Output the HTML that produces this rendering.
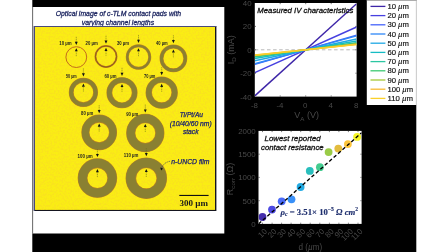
<!DOCTYPE html>
<html><head><meta charset="utf-8"><title>c-TLM contact resistance</title>
<style>
html,body{margin:0;padding:0;background:#fff;}
body{width:448px;height:252px;overflow:hidden;position:relative;font-family:"Liberation Sans",sans-serif;}
svg{position:absolute;left:0;top:0;display:block;}
text{font-family:"Liberation Sans",sans-serif;}
.ser{font-family:"Liberation Serif",serif;}
</style></head><body>
<svg width="448" height="252" viewBox="0 0 448 252">

<rect x="0" y="0" width="448" height="252" fill="#fff"/>
<rect x="32.3" y="0" width="384" height="252" fill="#000"/>
<rect x="32.3" y="7" width="192" height="226.5" fill="#fff"/>
<rect x="32.3" y="7" width="0.8" height="226.5" fill="#555"/>
<g font-style="italic" fill="#1c2560" stroke="#1c2560" stroke-width="0.28" font-size="7.2" text-anchor="middle">
<text x="118.4" y="16.0" textLength="125.4" lengthAdjust="spacingAndGlyphs">Optical image of c-TLM contact pads with</text>
<text x="117.9" y="24.7" textLength="72.4" lengthAdjust="spacingAndGlyphs">varying channel lengths</text>
</g>
<rect x="33.8" y="26" width="182.6" height="185" fill="#15151f"/>
<path d="M33.8 210.8 V26 H216.2 V27 H35 V210.8 Z" fill="#4a4a7a"/>
<rect x="35" y="27" width="180" height="182.9" fill="#faed14"/>
<filter id="nz" x="0" y="0" width="100%" height="100%"><feTurbulence type="fractalNoise" baseFrequency="0.55" numOctaves="2" seed="7" result="t"/><feColorMatrix type="matrix" values="0 0 0 0 0.95  0 0 0 0 0.70  0 0 0 0 0.02  5 0 0 0 -2.15"/></filter>
<rect x="35" y="27" width="180" height="182.9" fill="#000" filter="url(#nz)" opacity="0.5"/>
<circle cx="76.3" cy="57.1" r="10.399999999999999" fill="none" stroke="#c46c1c" stroke-width="1.0"/>
<circle cx="106.0" cy="56.5" r="10.55" fill="none" stroke="#c47a1c" stroke-width="1.80"/>
<circle cx="106.0" cy="56.5" r="10.55" fill="none" stroke="#8a5e1e" stroke-width="1.00"/>
<circle cx="138.5" cy="57.0" r="11.25" fill="none" stroke="#c08420" stroke-width="3.00"/>
<circle cx="138.5" cy="57.0" r="11.3" fill="none" stroke="#8a8032" stroke-width="2.00"/>
<circle cx="173.4" cy="58.4" r="11.899999999999999" fill="none" stroke="#c08420" stroke-width="3.90"/>
<circle cx="173.4" cy="58.4" r="11.95" fill="none" stroke="#8a8032" stroke-width="2.90"/>
<circle cx="83.4" cy="92.4" r="12.2" fill="none" stroke="#c08420" stroke-width="4.90"/>
<circle cx="83.4" cy="92.4" r="12.25" fill="none" stroke="#8a8032" stroke-width="3.90"/>
<circle cx="122.0" cy="92.7" r="12.65" fill="none" stroke="#c08420" stroke-width="5.80"/>
<circle cx="122.0" cy="92.7" r="12.700000000000001" fill="none" stroke="#8a8032" stroke-width="4.80"/>
<circle cx="161.7" cy="92.6" r="12.95" fill="none" stroke="#c08420" stroke-width="6.40"/>
<circle cx="161.7" cy="92.6" r="13.0" fill="none" stroke="#8a8032" stroke-width="5.40"/>
<circle cx="99.2" cy="132.4" r="13.8" fill="none" stroke="#c08420" stroke-width="8.10"/>
<circle cx="99.2" cy="132.4" r="13.850000000000001" fill="none" stroke="#8a8032" stroke-width="7.10"/>
<circle cx="145.3" cy="133.0" r="14.549999999999999" fill="none" stroke="#c08420" stroke-width="9.20"/>
<circle cx="145.3" cy="133.0" r="14.6" fill="none" stroke="#8a8032" stroke-width="8.20"/>
<circle cx="97.4" cy="178.1" r="14.85" fill="none" stroke="#c08420" stroke-width="9.80"/>
<circle cx="97.4" cy="178.1" r="14.9" fill="none" stroke="#8a8032" stroke-width="8.80"/>
<circle cx="146.3" cy="178.2" r="15.45" fill="none" stroke="#c08420" stroke-width="10.60"/>
<circle cx="146.3" cy="178.2" r="15.5" fill="none" stroke="#8a8032" stroke-width="9.60"/>
<g font-size="4.6" font-weight="bold" fill="#222" text-anchor="middle">
<line x1="76.3" y1="36.8" x2="76.3" y2="42.0" stroke="#6a6a20" stroke-width="0.55" stroke-dasharray="1.3 0.6"/>
<path d="M74.85 41.7 L77.75 41.7 L76.3 44.9 Z" fill="#111"/>
<path d="M74.85 51.3 L77.75 51.3 L76.3 48.2 Z" fill="#111"/>
<line x1="76.3" y1="51.2" x2="76.3" y2="56.2" stroke="#6a6a20" stroke-width="0.55" stroke-dasharray="1.3 0.6"/>
<text x="65.5" y="45.2" textLength="12.4" lengthAdjust="spacingAndGlyphs">10 µm</text>
<line x1="106.0" y1="35.7" x2="106.0" y2="40.9" stroke="#6a6a20" stroke-width="0.55" stroke-dasharray="1.3 0.6"/>
<path d="M104.55 40.6 L107.45 40.6 L106.0 43.8 Z" fill="#111"/>
<path d="M104.55 50.9 L107.45 50.9 L106.0 47.8 Z" fill="#111"/>
<line x1="106.0" y1="50.8" x2="106.0" y2="55.8" stroke="#6a6a20" stroke-width="0.55" stroke-dasharray="1.3 0.6"/>
<text x="91.7" y="45.2" textLength="12.2" lengthAdjust="spacingAndGlyphs">20 µm</text>
<line x1="138.5" y1="34.9" x2="138.5" y2="40.1" stroke="#6a6a20" stroke-width="0.55" stroke-dasharray="1.3 0.6"/>
<path d="M137.05 39.8 L139.95 39.8 L138.5 43.0 Z" fill="#111"/>
<path d="M137.05 51.3 L139.95 51.3 L138.5 48.2 Z" fill="#111"/>
<line x1="138.5" y1="51.2" x2="138.5" y2="56.2" stroke="#6a6a20" stroke-width="0.55" stroke-dasharray="1.3 0.6"/>
<text x="123.0" y="45.2" textLength="12.1" lengthAdjust="spacingAndGlyphs">30 µm</text>
<line x1="173.4" y1="35.2" x2="173.4" y2="40.4" stroke="#6a6a20" stroke-width="0.55" stroke-dasharray="1.3 0.6"/>
<path d="M171.95 40.1 L174.85 40.1 L173.4 43.3 Z" fill="#111"/>
<path d="M171.95 52.5 L174.85 52.5 L173.4 49.4 Z" fill="#111"/>
<line x1="173.4" y1="52.4" x2="173.4" y2="57.4" stroke="#6a6a20" stroke-width="0.55" stroke-dasharray="1.3 0.6"/>
<text x="161.8" y="44.9" textLength="11.6" lengthAdjust="spacingAndGlyphs">40 µm</text>
<line x1="83.4" y1="68.4" x2="83.4" y2="73.6" stroke="#6a6a20" stroke-width="0.55" stroke-dasharray="1.3 0.6"/>
<path d="M81.95 73.3 L84.85 73.3 L83.4 76.5 Z" fill="#111"/>
<path d="M81.95 86.7 L84.85 86.7 L83.4 83.6 Z" fill="#111"/>
<line x1="83.4" y1="86.6" x2="83.4" y2="91.6" stroke="#6a6a20" stroke-width="0.55" stroke-dasharray="1.3 0.6"/>
<text x="71.3" y="77.6" textLength="10.8" lengthAdjust="spacingAndGlyphs">50 µm</text>
<line x1="122.0" y1="67.8" x2="122.0" y2="73.0" stroke="#6a6a20" stroke-width="0.55" stroke-dasharray="1.3 0.6"/>
<path d="M120.55 72.7 L123.45 72.7 L122.0 75.9 Z" fill="#111"/>
<path d="M120.55 87.0 L123.45 87.0 L122.0 83.9 Z" fill="#111"/>
<line x1="122.0" y1="86.9" x2="122.0" y2="91.9" stroke="#6a6a20" stroke-width="0.55" stroke-dasharray="1.3 0.6"/>
<text x="110.5" y="77.6" textLength="12.0" lengthAdjust="spacingAndGlyphs">60 µm</text>
<line x1="161.7" y1="67.1" x2="161.7" y2="72.3" stroke="#6a6a20" stroke-width="0.55" stroke-dasharray="1.3 0.6"/>
<path d="M160.25 72.0 L163.15 72.0 L161.7 75.2 Z" fill="#111"/>
<path d="M160.25 86.9 L163.15 86.9 L161.7 83.8 Z" fill="#111"/>
<line x1="161.7" y1="86.8" x2="161.7" y2="91.8" stroke="#6a6a20" stroke-width="0.55" stroke-dasharray="1.3 0.6"/>
<text x="149.7" y="77.6" textLength="11.4" lengthAdjust="spacingAndGlyphs">70 µm</text>
<line x1="99.2" y1="105.2" x2="99.2" y2="110.4" stroke="#6a6a20" stroke-width="0.55" stroke-dasharray="1.3 0.6"/>
<path d="M97.75 110.1 L100.65 110.1 L99.2 113.3 Z" fill="#111"/>
<path d="M97.75 126.7 L100.65 126.7 L99.2 123.6 Z" fill="#111"/>
<line x1="99.2" y1="126.6" x2="99.2" y2="131.6" stroke="#6a6a20" stroke-width="0.55" stroke-dasharray="1.3 0.6"/>
<text x="87.2" y="114.8" textLength="12.2" lengthAdjust="spacingAndGlyphs">80 µm</text>
<line x1="145.3" y1="104.5" x2="145.3" y2="109.7" stroke="#6a6a20" stroke-width="0.55" stroke-dasharray="1.3 0.6"/>
<path d="M143.85 109.4 L146.75 109.4 L145.3 112.6 Z" fill="#111"/>
<path d="M143.85 127.1 L146.75 127.1 L145.3 124.0 Z" fill="#111"/>
<line x1="145.3" y1="127.0" x2="145.3" y2="132.0" stroke="#6a6a20" stroke-width="0.55" stroke-dasharray="1.3 0.6"/>
<text x="132.3" y="116.0" textLength="12.2" lengthAdjust="spacingAndGlyphs">90 µm</text>
<line x1="97.4" y1="149.0" x2="97.4" y2="154.2" stroke="#6a6a20" stroke-width="0.55" stroke-dasharray="1.3 0.6"/>
<path d="M95.95 153.9 L98.85 153.9 L97.4 157.1 Z" fill="#111"/>
<path d="M95.95 172.2 L98.85 172.2 L97.4 169.1 Z" fill="#111"/>
<line x1="97.4" y1="172.1" x2="97.4" y2="177.1" stroke="#6a6a20" stroke-width="0.55" stroke-dasharray="1.3 0.6"/>
<text x="85.1" y="158.2" textLength="15.1" lengthAdjust="spacingAndGlyphs">100 µm</text>
<line x1="146.3" y1="148.1" x2="146.3" y2="153.3" stroke="#6a6a20" stroke-width="0.55" stroke-dasharray="1.3 0.6"/>
<path d="M144.85 153.0 L147.75 153.0 L146.3 156.2 Z" fill="#111"/>
<path d="M144.85 172.1 L147.75 172.1 L146.3 169.0 Z" fill="#111"/>
<line x1="146.3" y1="172.0" x2="146.3" y2="177.0" stroke="#6a6a20" stroke-width="0.55" stroke-dasharray="1.3 0.6"/>
<text x="131.1" y="157.0" textLength="14.6" lengthAdjust="spacingAndGlyphs">110 µm</text>
</g>
<g font-style="italic" fill="#1a2070" stroke="#1a2070" stroke-width="0.25" font-size="6.7" text-anchor="middle">
<text x="191.3" y="117.4" textLength="23.2" lengthAdjust="spacingAndGlyphs">Ti/Pt/Au</text>
<text x="190.7" y="126.3" textLength="42" lengthAdjust="spacingAndGlyphs">(10/40/60 nm)</text>
<text x="190.7" y="134.2">stack</text>
<text x="190.4" y="163.6" textLength="38.3" lengthAdjust="spacingAndGlyphs">n-UNCD film</text>
</g>
<path d="M170 161.3 Q163.5 162.5 161.6 168.2" fill="none" stroke="#1c2560" stroke-width="0.6" stroke-dasharray="1.3 0.8"/>
<path d="M160.2 167.6 L163 168.6 L161.2 170.4 Z" fill="#111"/>
<rect x="179.3" y="194.9" width="29.3" height="1.1" fill="#111"/>
<text class="ser" x="193.8" y="206.4" font-size="9" font-weight="bold" fill="#1a1a1a" text-anchor="middle" textLength="28.4" lengthAdjust="spacingAndGlyphs">300 µm</text>
<rect x="254.8" y="3.0" width="101.8" height="93.6" fill="#fff"/>
<clipPath id="c1"><rect x="254.8" y="3.0" width="101.8" height="93.6"/></clipPath>
<line x1="254.8" y1="49.8" x2="356.6" y2="49.8" stroke="#b8b8b8" stroke-width="1" stroke-dasharray="3.5 2.6"/>
<g clip-path="url(#c1)" fill="none" stroke-width="1.45">
<line x1="254.8" y1="95.90" x2="356.6" y2="3.70" stroke="#3e26a8"/>
<line x1="254.8" y1="72.61" x2="356.6" y2="26.98" stroke="#4740e0"/>
<line x1="254.8" y1="64.42" x2="356.6" y2="35.17" stroke="#4563fb"/>
<line x1="254.8" y1="63.72" x2="356.6" y2="35.88" stroke="#2e87f7"/>
<line x1="254.8" y1="60.68" x2="356.6" y2="38.92" stroke="#1fa8e4"/>
<line x1="254.8" y1="58.57" x2="356.6" y2="41.02" stroke="#16bcc4"/>
<line x1="254.8" y1="56.94" x2="356.6" y2="42.66" stroke="#2cc6a2"/>
<line x1="254.8" y1="56.35" x2="356.6" y2="43.25" stroke="#3dc972"/>
<line x1="254.8" y1="55.65" x2="356.6" y2="43.95" stroke="#a6c737"/>
<line x1="254.8" y1="55.30" x2="356.6" y2="44.30" stroke="#f7b932"/>
<line x1="254.8" y1="54.95" x2="356.6" y2="44.65" stroke="#fad02a"/>
</g>
<g stroke="#262626" stroke-width="0.6">
<line x1="280.2" y1="96.6" x2="280.2" y2="95.39999999999999"/>
<line x1="280.2" y1="3.0" x2="280.2" y2="4.2"/>
<line x1="305.7" y1="96.6" x2="305.7" y2="95.39999999999999"/>
<line x1="305.7" y1="3.0" x2="305.7" y2="4.2"/>
<line x1="331.2" y1="96.6" x2="331.2" y2="95.39999999999999"/>
<line x1="331.2" y1="3.0" x2="331.2" y2="4.2"/>
<line x1="254.8" y1="73.2" x2="256.0" y2="73.2"/>
<line x1="356.6" y1="73.2" x2="355.40000000000003" y2="73.2"/>
<line x1="254.8" y1="49.8" x2="256.0" y2="49.8"/>
<line x1="356.6" y1="49.8" x2="355.40000000000003" y2="49.8"/>
<line x1="254.8" y1="26.4" x2="256.0" y2="26.4"/>
<line x1="356.6" y1="26.4" x2="355.40000000000003" y2="26.4"/>
</g>
<g font-size="7.9" fill="#484848">
<text x="251.6" y="99.6" text-anchor="end">-40</text>
<text x="251.6" y="76.2" text-anchor="end">-20</text>
<text x="251.6" y="52.8" text-anchor="end">0</text>
<text x="251.6" y="29.4" text-anchor="end">20</text>
<text x="251.6" y="6.0" text-anchor="end">40</text>
<text x="254.4" y="107.8" text-anchor="middle">-8</text>
<text x="279.9" y="107.8" text-anchor="middle">-4</text>
<text x="305.3" y="107.8" text-anchor="middle">0</text>
<text x="330.8" y="107.8" text-anchor="middle">4</text>
<text x="356.2" y="107.8" text-anchor="middle">8</text>
<text x="306.6" y="118.3" text-anchor="middle" font-size="9">V<tspan font-size="6.2" dy="2.4">A</tspan><tspan dy="-2.4"> (V)</tspan></text>
<text transform="translate(233.6,49.8) rotate(-90)" text-anchor="middle" font-size="9">I<tspan font-size="6.2" dy="2.4">D</tspan><tspan dy="-2.4"> (mA)</tspan></text>
</g>
<text x="305.3" y="13.3" font-size="7.8" font-style="italic" fill="#111" stroke="#111" stroke-width="0.3" text-anchor="middle" textLength="96" lengthAdjust="spacingAndGlyphs">Measured IV characteristics</text>
<rect x="366.8" y="0" width="50" height="105" fill="#fff"/>
<rect x="366.8" y="0" width="50" height="0.6" fill="#777"/>
<rect x="415.9" y="0" width="0.6" height="105" fill="#b0b0b0"/>
<g font-size="7.3" fill="#111" stroke="#111" stroke-width="0.15">
<line x1="370.5" y1="6.40" x2="385.4" y2="6.40" stroke="#3e26a8" stroke-width="1.3"/>
<text x="387.4" y="9.00" textLength="21.6" lengthAdjust="spacingAndGlyphs">10 <tspan font-style="italic">µ</tspan>m</text>
<line x1="370.5" y1="15.60" x2="385.4" y2="15.60" stroke="#4740e0" stroke-width="1.3"/>
<text x="387.4" y="18.20" textLength="21.6" lengthAdjust="spacingAndGlyphs">20 <tspan font-style="italic">µ</tspan>m</text>
<line x1="370.5" y1="24.80" x2="385.4" y2="24.80" stroke="#4563fb" stroke-width="1.3"/>
<text x="387.4" y="27.40" textLength="21.6" lengthAdjust="spacingAndGlyphs">30 <tspan font-style="italic">µ</tspan>m</text>
<line x1="370.5" y1="34.00" x2="385.4" y2="34.00" stroke="#2e87f7" stroke-width="1.3"/>
<text x="387.4" y="36.60" textLength="21.6" lengthAdjust="spacingAndGlyphs">40 <tspan font-style="italic">µ</tspan>m</text>
<line x1="370.5" y1="43.20" x2="385.4" y2="43.20" stroke="#1fa8e4" stroke-width="1.3"/>
<text x="387.4" y="45.80" textLength="21.6" lengthAdjust="spacingAndGlyphs">50 <tspan font-style="italic">µ</tspan>m</text>
<line x1="370.5" y1="52.40" x2="385.4" y2="52.40" stroke="#16bcc4" stroke-width="1.3"/>
<text x="387.4" y="55.00" textLength="21.6" lengthAdjust="spacingAndGlyphs">60 <tspan font-style="italic">µ</tspan>m</text>
<line x1="370.5" y1="61.60" x2="385.4" y2="61.60" stroke="#2cc6a2" stroke-width="1.3"/>
<text x="387.4" y="64.20" textLength="21.6" lengthAdjust="spacingAndGlyphs">70 <tspan font-style="italic">µ</tspan>m</text>
<line x1="370.5" y1="70.80" x2="385.4" y2="70.80" stroke="#3dc972" stroke-width="1.3"/>
<text x="387.4" y="73.40" textLength="21.6" lengthAdjust="spacingAndGlyphs">80 <tspan font-style="italic">µ</tspan>m</text>
<line x1="370.5" y1="80.00" x2="385.4" y2="80.00" stroke="#a6c737" stroke-width="1.3"/>
<text x="387.4" y="82.60" textLength="21.6" lengthAdjust="spacingAndGlyphs">90 <tspan font-style="italic">µ</tspan>m</text>
<line x1="370.5" y1="89.20" x2="385.4" y2="89.20" stroke="#f7b932" stroke-width="1.3"/>
<text x="387.4" y="91.80" textLength="25.7" lengthAdjust="spacingAndGlyphs">100 <tspan font-style="italic">µ</tspan>m</text>
<line x1="370.5" y1="98.40" x2="385.4" y2="98.40" stroke="#fad02a" stroke-width="1.3"/>
<text x="387.4" y="101.00" textLength="25.7" lengthAdjust="spacingAndGlyphs">110 <tspan font-style="italic">µ</tspan>m</text>
</g>
<rect x="258.5" y="130.9" width="103.1" height="93.0" fill="#fff"/>
<clipPath id="c2"><rect x="258.5" y="130.9" width="103.1" height="93.0"/></clipPath>
<g clip-path="url(#c2)">
<circle cx="262.5" cy="217.0" r="3.9" fill="#3a22a8" fill-opacity="0.95"/>
<circle cx="272.0" cy="209.6" r="3.9" fill="#4340e2" fill-opacity="0.95"/>
<circle cx="281.7" cy="201.3" r="3.9" fill="#4063f9" fill-opacity="0.95"/>
<circle cx="291.5" cy="199.3" r="3.9" fill="#2e8af8" fill-opacity="0.95"/>
<circle cx="300.6" cy="187.0" r="3.9" fill="#18a6e2" fill-opacity="0.95"/>
<circle cx="309.8" cy="170.9" r="3.9" fill="#1ebbb8" fill-opacity="0.95"/>
<circle cx="319.9" cy="167.2" r="3.9" fill="#3ac98a" fill-opacity="0.95"/>
<circle cx="328.6" cy="152.1" r="3.9" fill="#93c83d" fill-opacity="0.95"/>
<circle cx="338.3" cy="148.6" r="3.9" fill="#e2b834" fill-opacity="0.95"/>
<circle cx="347.9" cy="144.1" r="3.9" fill="#fdc230" fill-opacity="0.95"/>
<circle cx="357.1" cy="136.9" r="3.9" fill="#f5f51a" fill-opacity="0.95"/>
<line x1="258.5" y1="224" x2="361.6" y2="132.8" stroke="#000" stroke-width="1.35" stroke-dasharray="3.6 2.3"/>
</g>
<g stroke="#262626" stroke-width="0.6">
<line x1="262.5" y1="223.9" x2="262.5" y2="222.70000000000002"/>
<line x1="262.5" y1="130.9" x2="262.5" y2="132.1"/>
<line x1="272.1" y1="223.9" x2="272.1" y2="222.70000000000002"/>
<line x1="272.1" y1="130.9" x2="272.1" y2="132.1"/>
<line x1="281.6" y1="223.9" x2="281.6" y2="222.70000000000002"/>
<line x1="281.6" y1="130.9" x2="281.6" y2="132.1"/>
<line x1="291.1" y1="223.9" x2="291.1" y2="222.70000000000002"/>
<line x1="291.1" y1="130.9" x2="291.1" y2="132.1"/>
<line x1="300.7" y1="223.9" x2="300.7" y2="222.70000000000002"/>
<line x1="300.7" y1="130.9" x2="300.7" y2="132.1"/>
<line x1="310.2" y1="223.9" x2="310.2" y2="222.70000000000002"/>
<line x1="310.2" y1="130.9" x2="310.2" y2="132.1"/>
<line x1="319.8" y1="223.9" x2="319.8" y2="222.70000000000002"/>
<line x1="319.8" y1="130.9" x2="319.8" y2="132.1"/>
<line x1="329.4" y1="223.9" x2="329.4" y2="222.70000000000002"/>
<line x1="329.4" y1="130.9" x2="329.4" y2="132.1"/>
<line x1="338.9" y1="223.9" x2="338.9" y2="222.70000000000002"/>
<line x1="338.9" y1="130.9" x2="338.9" y2="132.1"/>
<line x1="348.4" y1="223.9" x2="348.4" y2="222.70000000000002"/>
<line x1="348.4" y1="130.9" x2="348.4" y2="132.1"/>
<line x1="358.0" y1="223.9" x2="358.0" y2="222.70000000000002"/>
<line x1="358.0" y1="130.9" x2="358.0" y2="132.1"/>
<line x1="258.5" y1="200.7" x2="259.7" y2="200.7"/>
<line x1="361.6" y1="200.7" x2="360.40000000000003" y2="200.7"/>
<line x1="258.5" y1="177.4" x2="259.7" y2="177.4"/>
<line x1="361.6" y1="177.4" x2="360.40000000000003" y2="177.4"/>
<line x1="258.5" y1="154.2" x2="259.7" y2="154.2"/>
<line x1="361.6" y1="154.2" x2="360.40000000000003" y2="154.2"/>
</g>
<g font-size="7.9" fill="#484848">
<text x="255.7" y="226.8" text-anchor="end">0</text>
<text x="255.7" y="203.6" text-anchor="end">500</text>
<text x="255.7" y="180.3" text-anchor="end">1000</text>
<text x="255.7" y="157.1" text-anchor="end">1500</text>
<text x="255.7" y="133.8" text-anchor="end">2000</text>
<text transform="translate(265.8,230.2) rotate(-45)" text-anchor="end" dominant-baseline="central">10</text>
<text transform="translate(275.4,230.2) rotate(-45)" text-anchor="end" dominant-baseline="central">20</text>
<text transform="translate(284.9,230.2) rotate(-45)" text-anchor="end" dominant-baseline="central">30</text>
<text transform="translate(294.4,230.2) rotate(-45)" text-anchor="end" dominant-baseline="central">40</text>
<text transform="translate(304.0,230.2) rotate(-45)" text-anchor="end" dominant-baseline="central">50</text>
<text transform="translate(313.6,230.2) rotate(-45)" text-anchor="end" dominant-baseline="central">60</text>
<text transform="translate(323.1,230.2) rotate(-45)" text-anchor="end" dominant-baseline="central">70</text>
<text transform="translate(332.7,230.2) rotate(-45)" text-anchor="end" dominant-baseline="central">80</text>
<text transform="translate(342.2,230.2) rotate(-45)" text-anchor="end" dominant-baseline="central">90</text>
<text transform="translate(351.8,230.2) rotate(-45)" text-anchor="end" dominant-baseline="central">100</text>
<text transform="translate(361.3,230.2) rotate(-45)" text-anchor="end" dominant-baseline="central">110</text>
<text x="310.3" y="249.6" text-anchor="middle" font-size="9" textLength="23.6" lengthAdjust="spacingAndGlyphs">d (<tspan font-style="italic">µ</tspan>m)</text>
<text transform="translate(232.6,179) rotate(-90)" text-anchor="middle" font-size="9">R<tspan font-size="6.2" dy="2.4">corr</tspan><tspan dy="-2.4"> (Ω)</tspan></text>
</g>
<g font-size="7.8" font-style="italic" fill="#111" stroke="#111" stroke-width="0.3">
<text x="264.6" y="140.6" textLength="56" lengthAdjust="spacingAndGlyphs">Lowest reported</text>
<text x="261" y="149.7" textLength="62.6" lengthAdjust="spacingAndGlyphs">contact resistance</text>
</g>
<text class="ser" x="280.5" y="214.6" font-size="8.6" font-weight="bold" fill="#1f2f6e" stroke="#1f2f6e" stroke-width="0.15" textLength="77.7" lengthAdjust="spacingAndGlyphs"><tspan font-style="italic">ρ</tspan><tspan font-style="italic" font-size="5.6" dy="1.4">c</tspan><tspan dy="-1.4"> = 3.51× 10</tspan><tspan font-size="5.6" dy="-3.2">−5</tspan><tspan dy="3.2" font-style="italic"> Ω cm</tspan><tspan font-size="5.6" dy="-3.2">2</tspan></text>
</svg>
</body></html>
